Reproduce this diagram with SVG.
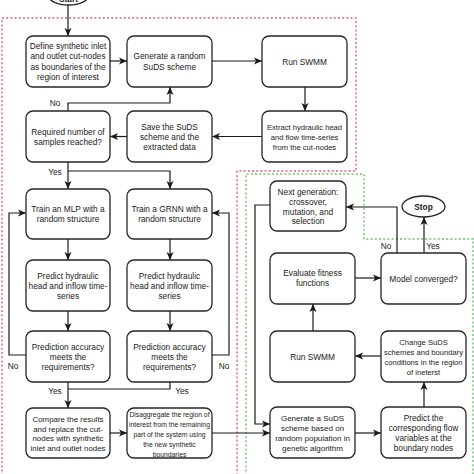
<svg xmlns="http://www.w3.org/2000/svg" width="474" height="474" viewBox="0 0 474 474">
<defs>
<marker id="arr" viewBox="0 0 8 8" refX="8" refY="4" markerWidth="8" markerHeight="8" markerUnits="userSpaceOnUse" orient="auto">
<path d="M0,0.5 L8,4 L0,7.5 L2,4 z" fill="#1a1a1a"/>
</marker>
<style>
.box{fill:#fff;stroke:#262626;stroke-width:1.3}
.t{font-family:"Liberation Sans",Arial,sans-serif;font-size:8.3px;fill:#1a1a1a;text-anchor:middle}
.s{font-size:7.6px}
.xs{font-size:6.8px}
.b{font-weight:bold}
.c{fill:none;stroke:#1a1a1a;stroke-width:1.2}
.ca{fill:none;stroke:#1a1a1a;stroke-width:1.2;marker-end:url(#arr)}
.red{fill:none;stroke:#e0607a;stroke-width:1.4;stroke-dasharray:2 2.2}
.green{fill:none;stroke:#6cc36c;stroke-width:1.4;stroke-dasharray:2 2.2}
</style>
</defs>
<rect width="474" height="474" fill="#fff"/>
<g id="regions">
<path class="red" d="M2,480 V18 H356 V171 H237 V480"/>
<path class="green" d="M246,480 V174 H364 V239 H473 V480"/>
</g>
<g id="connectors">
<path class="ca" d="M68,5 V36"/>
<path class="ca" d="M110,61 H127"/>
<path class="ca" d="M212,61 H262"/>
<path class="ca" d="M305,87 V111"/>
<path class="ca" d="M262,136.5 H212"/>
<path class="ca" d="M127,136.5 H110"/>
<path class="ca" d="M68,111 V103 H170 V87"/>
<path class="ca" d="M68,162 V189"/>
<path class="ca" d="M68,171 H170 V189"/>
<path class="ca" d="M68,239 V260"/>
<path class="ca" d="M170,239 V260"/>
<path class="ca" d="M68,311 V331"/>
<path class="ca" d="M170,311 V331"/>
<path class="ca" d="M26,355 H9 V213 H26"/>
<path class="ca" d="M212,355 H229 V213 H212"/>
<path class="ca" d="M68,382 V408"/>
<path class="c" d="M170,382 V389 H68"/>
<path class="ca" d="M110,433 H127"/>
<path class="ca" d="M212,433 H270"/>
<path class="ca" d="M270,205 H255 V424 H270"/>
<path class="ca" d="M355,433 H381"/>
<path class="ca" d="M424,407 V382"/>
<path class="ca" d="M381,356 H355"/>
<path class="ca" d="M313,331 V304"/>
<path class="ca" d="M355,278 H381"/>
<path class="ca" d="M397,253 V207 H346"/>
<path class="ca" d="M424,253 V217"/>
<text class="t" x="55" y="106">No</text>
<text class="t" x="55" y="175">Yes</text>
<text class="t" x="13" y="369">No</text>
<text class="t" x="224" y="369">No</text>
<text class="t" x="55" y="394">Yes</text>
<text class="t" x="182" y="394">Yes</text>
<text class="t" x="386" y="249">No</text>
<text class="t" x="433" y="249">Yes</text>
</g>
<g id="start">
<ellipse cx="68.5" cy="-5" rx="20.5" ry="10" fill="#fff" stroke="#262626" stroke-width="1.3"/>
<text class="t b" x="68.5" y="2">Start</text>
</g>
<g id="define">
<rect class="box" x="26" y="36" width="84" height="51" rx="7"/>
<text class="t"><tspan x="68" y="49">Define synthetic inlet</tspan><tspan x="68" y="59.3">and outlet cut-nodes</tspan><tspan x="68" y="69.6">as boundaries of the</tspan><tspan x="68" y="79.9">region of interest</tspan></text>
</g>
<g id="genrand">
<rect class="box" x="127" y="36" width="85" height="51" rx="7"/>
<text class="t"><tspan x="169.5" y="59">Generate a random</tspan><tspan x="169.5" y="69.5">SuDS scheme</tspan></text>
</g>
<g id="runswmm1">
<rect class="box" x="262" y="36" width="85" height="51" rx="7"/>
<text class="t" x="304.5" y="64.5">Run SWMM</text>
</g>
<g id="extract">
<rect class="box" x="262" y="111" width="85" height="51" rx="7"/>
<text class="t s"><tspan x="304.5" y="129.5">Extract hydraulic head</tspan><tspan x="304.5" y="139.7">and flow time-series</tspan><tspan x="304.5" y="149.9">from the cut-nodes</tspan></text>
</g>
<g id="save">
<rect class="box" x="127" y="111" width="85" height="51" rx="7"/>
<text class="t"><tspan x="169.5" y="129.5">Save the SuDS</tspan><tspan x="169.5" y="139.7">scheme and the</tspan><tspan x="169.5" y="149.9">extracted data</tspan></text>
</g>
<g id="required">
<rect class="box" x="26" y="111" width="84" height="51" rx="7"/>
<text class="t"><tspan x="68" y="134.6">Required number of</tspan><tspan x="68" y="144.9">samples reached?</tspan></text>
</g>
<g id="mlp">
<rect class="box" x="26" y="189" width="84" height="50" rx="7"/>
<text class="t"><tspan x="68" y="212">Train an MLP with a</tspan><tspan x="68" y="222.3">random structure</tspan></text>
</g>
<g id="grnn">
<rect class="box" x="127" y="189" width="85" height="50" rx="7"/>
<text class="t"><tspan x="169.5" y="212">Train a GRNN with a</tspan><tspan x="169.5" y="222.3">random structure</tspan></text>
</g>
<g id="pred1">
<rect class="box" x="26" y="260" width="84" height="51" rx="7"/>
<text class="t"><tspan x="68" y="278.5">Predict hydraulic</tspan><tspan x="68" y="288.8">head and inflow time-</tspan><tspan x="68" y="299.1">series</tspan></text>
</g>
<g id="pred2">
<rect class="box" x="127" y="260" width="85" height="51" rx="7"/>
<text class="t"><tspan x="169.5" y="278.5">Predict hydraulic</tspan><tspan x="169.5" y="288.8">head and inflow time-</tspan><tspan x="169.5" y="299.1">series</tspan></text>
</g>
<g id="acc1">
<rect class="box" x="26" y="331" width="84" height="51" rx="7"/>
<text class="t"><tspan x="68" y="349.5">Prediction accuracy</tspan><tspan x="68" y="359.8">meets the</tspan><tspan x="68" y="370.1">requirements?</tspan></text>
</g>
<g id="acc2">
<rect class="box" x="127" y="331" width="85" height="51" rx="7"/>
<text class="t"><tspan x="169.5" y="349.5">Prediction accuracy</tspan><tspan x="169.5" y="359.8">meets the</tspan><tspan x="169.5" y="370.1">requirements?</tspan></text>
</g>
<g id="compare">
<rect class="box" x="26" y="408" width="84" height="50" rx="7"/>
<text class="t" style="font-size:7.9px"><tspan x="68" y="421.8">Compare the results</tspan><tspan x="68" y="431.6">and replace the cut-</tspan><tspan x="68" y="441.4">nodes with synthetic</tspan><tspan x="68" y="451.2">inlet and outlet nodes</tspan></text>
</g>
<g id="disagg">
<rect class="box" x="127" y="408" width="85" height="50" rx="7"/>
<text class="t xs"><tspan x="169.5" y="416.5">Disaggregate the region of</tspan><tspan x="169.5" y="426.5">interest from the remaining</tspan><tspan x="169.5" y="436.5">part of the system using</tspan><tspan x="169.5" y="446.5">the new synthetic</tspan><tspan x="169.5" y="456.5">boundaries</tspan></text>
</g>
<g id="nextgen">
<rect class="box" x="270" y="181" width="76" height="50" rx="7"/>
<text class="t"><tspan x="308" y="194.5">Next generation:</tspan><tspan x="308" y="204.5">crossover,</tspan><tspan x="308" y="214.5">mutation, and</tspan><tspan x="308" y="224">selection</tspan></text>
</g>
<g id="stop">
<ellipse cx="423.5" cy="206.5" rx="21.5" ry="10.5" fill="#fff" stroke="#262626" stroke-width="1.3"/>
<text class="t b" x="423.5" y="209.5">Stop</text>
</g>
<g id="evaluate">
<rect class="box" x="270" y="253" width="85" height="51" rx="7"/>
<text class="t"><tspan x="312.5" y="276">Evaluate fitness</tspan><tspan x="312.5" y="286.3">functions</tspan></text>
</g>
<g id="converged">
<rect class="box" x="381" y="253" width="85" height="51" rx="7"/>
<text class="t"><tspan x="423.5" y="281.5">Model converged?</tspan></text>
</g>
<g id="runswmm2">
<rect class="box" x="270" y="331" width="85" height="51" rx="7"/>
<text class="t" x="312.5" y="359.5">Run SWMM</text>
</g>
<g id="change">
<rect class="box" x="381" y="331" width="85" height="51" rx="7"/>
<text class="t s"><tspan x="423.5" y="344.7">Change SuDS</tspan><tspan x="423.5" y="354.7">schemes and boundary</tspan><tspan x="423.5" y="364.7">conditions in the region</tspan><tspan x="423.5" y="374.7">of ineterst</tspan></text>
</g>
<g id="gensuds">
<rect class="box" x="270" y="407" width="85" height="51" rx="7"/>
<text class="t" style="font-size:8px"><tspan x="312.5" y="421">Generate a SuDS</tspan><tspan x="312.5" y="431">scheme based on</tspan><tspan x="312.5" y="441">random population in</tspan><tspan x="312.5" y="451">genetic algorithm</tspan></text>
</g>
<g id="predcorr">
<rect class="box" x="381" y="407" width="85" height="51" rx="7"/>
<text class="t"><tspan x="423.5" y="421">Predict the</tspan><tspan x="423.5" y="431">corresponding flow</tspan><tspan x="423.5" y="441">variables at the</tspan><tspan x="423.5" y="451">boundary nodes</tspan></text>
</g>
</svg>
